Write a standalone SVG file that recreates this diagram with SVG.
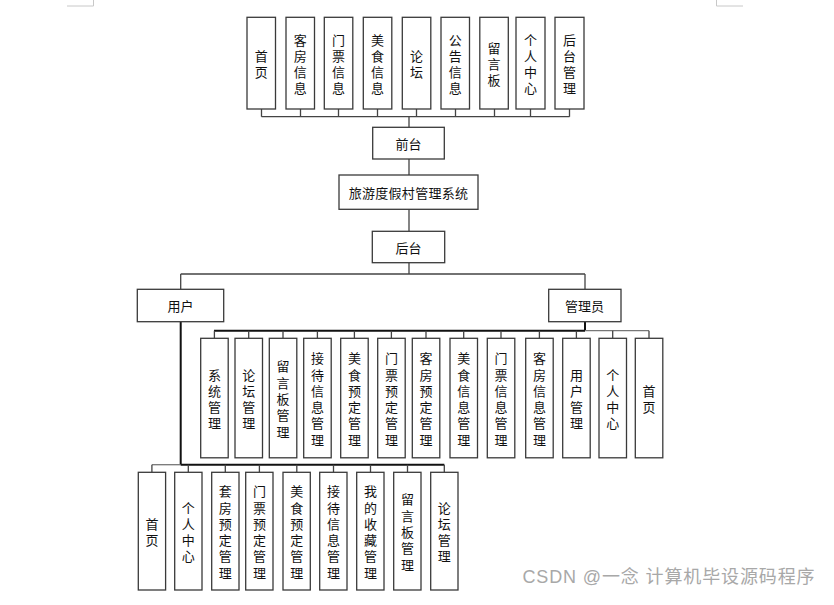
<svg xmlns="http://www.w3.org/2000/svg" width="834" height="605" viewBox="0 0 834 605">
<style>
.box{fill:#fff;stroke:#3a3a3a;stroke-width:1.3}
.t{font-family:"Noto Sans CJK SC","Noto Sans",sans-serif;font-size:13px;fill:#111;text-anchor:middle;dominant-baseline:central}
.c{fill:none;stroke:#444;stroke-width:1.3}
.cb{fill:none;stroke:#111;stroke-width:2}
.cg{fill:none;stroke:#777;stroke-width:1.3}
.mark{fill:none;stroke:#c8c8c8;stroke-width:1}
.wm{font-family:"Liberation Sans","Noto Sans CJK SC",sans-serif;font-size:18px;fill:#a8a8a8}
</style>
<rect width="834" height="605" fill="#fff"/>
<g id="marks">
<path class="mark" d="M93.5 0V6H67M716.5 0V6H743"/>
</g>
<g id="connectors">
<path class="c" d="M261.5 109V116.7M300.5 109V116.7M338.5 109V116.7M377.5 109V116.7M416.5 109V116.7M455.5 109V116.7M494.5 109V116.7M530.5 109V116.7M569.5 109V116.7M261.5 116.7H569.5M409 116.7V127.3"/>
<path class="c" d="M409 159V175M409 209.3V231.3M409 262.7V274M180.7 274H585M180.7 274V289.3M585 274V289.3"/>
<path class="cb" d="M180.7 321.7V464.7M585 321.7V330.7M214 330.7H585"/>
<path class="cg" d="M585 330.7H649"/>
<path class="c" d="M214.4 330.7V338.3M248.7 330.7V338.3M283 330.7V338.3M317.4 330.7V338.3M354.4 330.7V338.3M391.4 330.7V338.3M426 330.7V338.3M463.7 330.7V338.3M501 330.7V338.3M539.4 330.7V338.3M576.4 330.7V338.3M612.7 330.7V338.3M649 330.7V338.3"/>
<path class="cg" d="M151.9 464.7H180.7"/>
<path class="cb" d="M180.7 464.7H444.3"/>
<path class="c" d="M151.9 464.7V472.3M188.3 464.7V472.3M225.3 464.7V472.3M259.4 464.7V472.3M296.8 464.7V472.3M333.5 464.7V472.3M370.5 464.7V472.3M407.5 464.7V472.3M444.3 464.7V472.3"/>
</g>
<g id="top1"><rect class="box" x="247" y="17.3" width="28.5" height="91.7"/><text class="t"><tspan x="261.3" y="54.85">首</tspan><tspan x="261.3" y="71.15">页</tspan></text></g>
<g id="top2"><rect class="box" x="286" y="17.3" width="28.5" height="91.7"/><text class="t"><tspan x="300.3" y="38.55">客</tspan><tspan x="300.3" y="54.85">房</tspan><tspan x="300.3" y="71.15">信</tspan><tspan x="300.3" y="87.45">息</tspan></text></g>
<g id="top3"><rect class="box" x="324.3" y="17.3" width="28.5" height="91.7"/><text class="t"><tspan x="338.5" y="38.55">门</tspan><tspan x="338.5" y="54.85">票</tspan><tspan x="338.5" y="71.15">信</tspan><tspan x="338.5" y="87.45">息</tspan></text></g>
<g id="top4"><rect class="box" x="363.3" y="17.3" width="28.5" height="91.7"/><text class="t"><tspan x="377.5" y="38.55">美</tspan><tspan x="377.5" y="54.85">食</tspan><tspan x="377.5" y="71.15">信</tspan><tspan x="377.5" y="87.45">息</tspan></text></g>
<g id="top5"><rect class="box" x="402.3" y="17.3" width="28.5" height="91.7"/><text class="t"><tspan x="416.5" y="54.85">论</tspan><tspan x="416.5" y="71.15">坛</tspan></text></g>
<g id="top6"><rect class="box" x="441" y="17.3" width="28.5" height="91.7"/><text class="t"><tspan x="455.3" y="38.55">公</tspan><tspan x="455.3" y="54.85">告</tspan><tspan x="455.3" y="71.15">信</tspan><tspan x="455.3" y="87.45">息</tspan></text></g>
<g id="top7"><rect class="box" x="479.8" y="17.3" width="28.5" height="91.7"/><text class="t"><tspan x="494" y="46.7">留</tspan><tspan x="494" y="63">言</tspan><tspan x="494" y="79.3">板</tspan></text></g>
<g id="top8"><rect class="box" x="516" y="17.3" width="29" height="91.7"/><text class="t"><tspan x="530.5" y="38.55">个</tspan><tspan x="530.5" y="54.85">人</tspan><tspan x="530.5" y="71.15">中</tspan><tspan x="530.5" y="87.45">心</tspan></text></g>
<g id="top9"><rect class="box" x="555" y="17.3" width="29" height="91.7"/><text class="t"><tspan x="569.5" y="38.55">后</tspan><tspan x="569.5" y="54.85">台</tspan><tspan x="569.5" y="71.15">管</tspan><tspan x="569.5" y="87.45">理</tspan></text></g>
<g id="qiantai"><rect class="box" x="372.7" y="127.3" width="71.6" height="31.7"/><text class="t" x="408.5" y="143.5">前台</text></g>
<g id="system"><rect class="box" x="339" y="175" width="139" height="34.3"/><text class="t" x="408.5" y="192.5" letter-spacing="0.3">旅游度假村管理系统</text></g>
<g id="houtai"><rect class="box" x="372.3" y="231.3" width="72.4" height="31.4"/><text class="t" x="408.5" y="247.3">后台</text></g>
<g id="user"><rect class="box" x="137.3" y="289.3" width="86.4" height="32.4"/><text class="t" x="180.5" y="305.8">用户</text></g>
<g id="admin"><rect class="box" x="548.7" y="289.3" width="72.3" height="32.4"/><text class="t" x="584.5" y="305.8">管理员</text></g>
<g id="a1"><rect class="box" x="200.7" y="338.3" width="27.5" height="119.5"/><text class="t"><tspan x="214.4" y="373.55">系</tspan><tspan x="214.4" y="389.85">统</tspan><tspan x="214.4" y="406.15">管</tspan><tspan x="214.4" y="422.45">理</tspan></text></g>
<g id="a2"><rect class="box" x="235" y="338.3" width="27.5" height="119.5"/><text class="t"><tspan x="248.7" y="373.55">论</tspan><tspan x="248.7" y="389.85">坛</tspan><tspan x="248.7" y="406.15">管</tspan><tspan x="248.7" y="422.45">理</tspan></text></g>
<g id="a3"><rect class="box" x="269.3" y="338.3" width="27.5" height="119.5"/><text class="t"><tspan x="283" y="365.4">留</tspan><tspan x="283" y="381.7">言</tspan><tspan x="283" y="398">板</tspan><tspan x="283" y="414.3">管</tspan><tspan x="283" y="430.6">理</tspan></text></g>
<g id="a4"><rect class="box" x="303.7" y="338.3" width="27.5" height="119.5"/><text class="t"><tspan x="317.4" y="357.25">接</tspan><tspan x="317.4" y="373.55">待</tspan><tspan x="317.4" y="389.85">信</tspan><tspan x="317.4" y="406.15">息</tspan><tspan x="317.4" y="422.45">管</tspan><tspan x="317.4" y="438.75">理</tspan></text></g>
<g id="a5"><rect class="box" x="340.7" y="338.3" width="27.5" height="119.5"/><text class="t"><tspan x="354.4" y="357.25">美</tspan><tspan x="354.4" y="373.55">食</tspan><tspan x="354.4" y="389.85">预</tspan><tspan x="354.4" y="406.15">定</tspan><tspan x="354.4" y="422.45">管</tspan><tspan x="354.4" y="438.75">理</tspan></text></g>
<g id="a6"><rect class="box" x="377.7" y="338.3" width="27.5" height="119.5"/><text class="t"><tspan x="391.4" y="357.25">门</tspan><tspan x="391.4" y="373.55">票</tspan><tspan x="391.4" y="389.85">预</tspan><tspan x="391.4" y="406.15">定</tspan><tspan x="391.4" y="422.45">管</tspan><tspan x="391.4" y="438.75">理</tspan></text></g>
<g id="a7"><rect class="box" x="412.3" y="338.3" width="27.5" height="119.5"/><text class="t"><tspan x="426" y="357.25">客</tspan><tspan x="426" y="373.55">房</tspan><tspan x="426" y="389.85">预</tspan><tspan x="426" y="406.15">定</tspan><tspan x="426" y="422.45">管</tspan><tspan x="426" y="438.75">理</tspan></text></g>
<g id="a8"><rect class="box" x="450" y="338.3" width="27.5" height="119.5"/><text class="t"><tspan x="463.7" y="357.25">美</tspan><tspan x="463.7" y="373.55">食</tspan><tspan x="463.7" y="389.85">信</tspan><tspan x="463.7" y="406.15">息</tspan><tspan x="463.7" y="422.45">管</tspan><tspan x="463.7" y="438.75">理</tspan></text></g>
<g id="a9"><rect class="box" x="487.3" y="338.3" width="27.5" height="119.5"/><text class="t"><tspan x="501" y="357.25">门</tspan><tspan x="501" y="373.55">票</tspan><tspan x="501" y="389.85">信</tspan><tspan x="501" y="406.15">息</tspan><tspan x="501" y="422.45">管</tspan><tspan x="501" y="438.75">理</tspan></text></g>
<g id="a10"><rect class="box" x="525.7" y="338.3" width="27.5" height="119.5"/><text class="t"><tspan x="539.4" y="357.25">客</tspan><tspan x="539.4" y="373.55">房</tspan><tspan x="539.4" y="389.85">信</tspan><tspan x="539.4" y="406.15">息</tspan><tspan x="539.4" y="422.45">管</tspan><tspan x="539.4" y="438.75">理</tspan></text></g>
<g id="a11"><rect class="box" x="562.7" y="338.3" width="27.5" height="119.5"/><text class="t"><tspan x="576.4" y="373.55">用</tspan><tspan x="576.4" y="389.85">户</tspan><tspan x="576.4" y="406.15">管</tspan><tspan x="576.4" y="422.45">理</tspan></text></g>
<g id="a12"><rect class="box" x="599" y="338.3" width="27.5" height="119.5"/><text class="t"><tspan x="612.7" y="373.55">个</tspan><tspan x="612.7" y="389.85">人</tspan><tspan x="612.7" y="406.15">中</tspan><tspan x="612.7" y="422.45">心</tspan></text></g>
<g id="a13"><rect class="box" x="635.3" y="338.3" width="27.5" height="119.5"/><text class="t"><tspan x="649" y="389.85">首</tspan><tspan x="649" y="406.15">页</tspan></text></g>
<g id="u1"><rect class="box" x="138.3" y="472.3" width="27.3" height="117.7"/><text class="t"><tspan x="151.9" y="522.85">首</tspan><tspan x="151.9" y="539.15">页</tspan></text></g>
<g id="u2"><rect class="box" x="174.7" y="472.3" width="27.3" height="117.7"/><text class="t"><tspan x="188.3" y="506.55">个</tspan><tspan x="188.3" y="522.85">人</tspan><tspan x="188.3" y="539.15">中</tspan><tspan x="188.3" y="555.45">心</tspan></text></g>
<g id="u3"><rect class="box" x="211.7" y="472.3" width="27.3" height="117.7"/><text class="t"><tspan x="225.3" y="490.25">套</tspan><tspan x="225.3" y="506.55">房</tspan><tspan x="225.3" y="522.85">预</tspan><tspan x="225.3" y="539.15">定</tspan><tspan x="225.3" y="555.45">管</tspan><tspan x="225.3" y="571.75">理</tspan></text></g>
<g id="u4"><rect class="box" x="245.7" y="472.3" width="27.3" height="117.7"/><text class="t"><tspan x="259.4" y="490.25">门</tspan><tspan x="259.4" y="506.55">票</tspan><tspan x="259.4" y="522.85">预</tspan><tspan x="259.4" y="539.15">定</tspan><tspan x="259.4" y="555.45">管</tspan><tspan x="259.4" y="571.75">理</tspan></text></g>
<g id="u5"><rect class="box" x="283" y="472.3" width="27.3" height="117.7"/><text class="t"><tspan x="296.8" y="490.25">美</tspan><tspan x="296.8" y="506.55">食</tspan><tspan x="296.8" y="522.85">预</tspan><tspan x="296.8" y="539.15">定</tspan><tspan x="296.8" y="555.45">管</tspan><tspan x="296.8" y="571.75">理</tspan></text></g>
<g id="u6"><rect class="box" x="319.7" y="472.3" width="27.3" height="117.7"/><text class="t"><tspan x="333.5" y="490.25">接</tspan><tspan x="333.5" y="506.55">待</tspan><tspan x="333.5" y="522.85">信</tspan><tspan x="333.5" y="539.15">息</tspan><tspan x="333.5" y="555.45">管</tspan><tspan x="333.5" y="571.75">理</tspan></text></g>
<g id="u7"><rect class="box" x="356.7" y="472.3" width="27.3" height="117.7"/><text class="t"><tspan x="370.5" y="490.25">我</tspan><tspan x="370.5" y="506.55">的</tspan><tspan x="370.5" y="522.85">收</tspan><tspan x="370.5" y="539.15">藏</tspan><tspan x="370.5" y="555.45">管</tspan><tspan x="370.5" y="571.75">理</tspan></text></g>
<g id="u8"><rect class="box" x="393.7" y="472.3" width="27.3" height="117.7"/><text class="t"><tspan x="407.5" y="498.4">留</tspan><tspan x="407.5" y="514.7">言</tspan><tspan x="407.5" y="531">板</tspan><tspan x="407.5" y="547.3">管</tspan><tspan x="407.5" y="563.6">理</tspan></text></g>
<g id="u9"><rect class="box" x="430.7" y="472.3" width="27.3" height="117.7"/><text class="t"><tspan x="444.3" y="506.55">论</tspan><tspan x="444.3" y="522.85">坛</tspan><tspan x="444.3" y="539.15">管</tspan><tspan x="444.3" y="555.45">理</tspan></text></g>
<text class="wm" x="522.5" y="583" textLength="292" lengthAdjust="spacing">CSDN @一念 计算机毕设源码程序</text>
</svg>
